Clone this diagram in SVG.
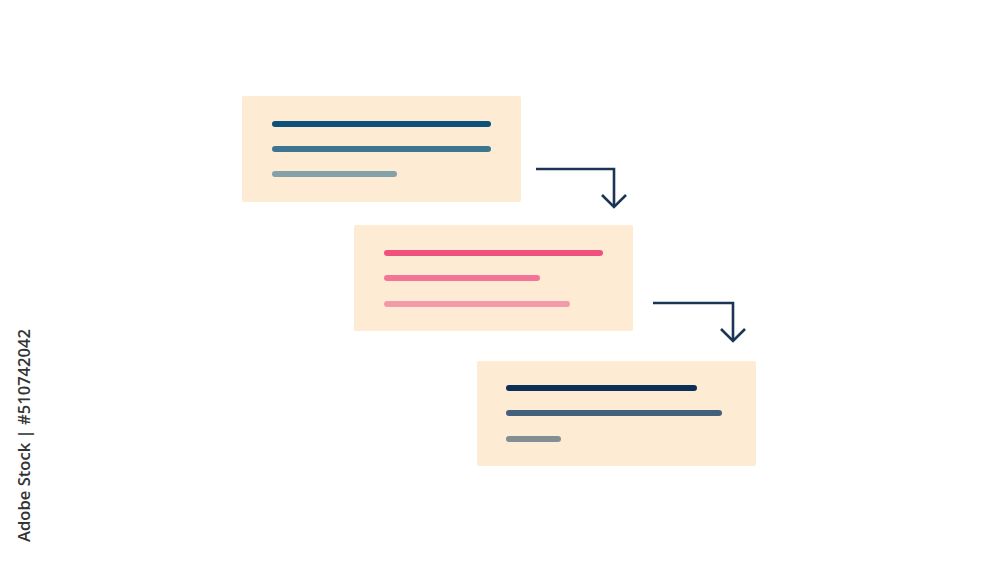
<svg xmlns="http://www.w3.org/2000/svg" width="1000" height="563" viewBox="0 0 1000 563">
<style>
.box{fill:#fdecd3}
.ln{stroke-width:6;stroke-linecap:round;fill:none}
.conn{stroke:#1a3555;stroke-width:2.6;fill:none;stroke-linejoin:miter}
.wm{font-family:"Open Sans","Liberation Sans",sans-serif;font-size:16.6px;font-weight:600;fill:#333}
</style>
<rect width="1000" height="563" fill="#fff"/>
<g id="card1">
<rect class="box" x="242" y="96" width="279" height="106" rx="2"/>
<line class="ln" x1="275" y1="124" x2="488" y2="124" stroke="#0d5079"/>
<line class="ln" x1="275" y1="149" x2="488" y2="149" stroke="#3d7590"/>
<line class="ln" x1="275" y1="174" x2="394" y2="174" stroke="#84a0a8"/>
</g>
<g id="card2">
<rect class="box" x="354" y="225" width="279" height="106" rx="2"/>
<line class="ln" x1="387" y1="253" x2="600" y2="253" stroke="#f0507e"/>
<line class="ln" x1="387" y1="278" x2="537" y2="278" stroke="#f27597"/>
<line class="ln" x1="387" y1="304" x2="567" y2="304" stroke="#f59aaa"/>
</g>
<g id="card3">
<rect class="box" x="477" y="361" width="279" height="105" rx="2"/>
<line class="ln" x1="509" y1="388" x2="694" y2="388" stroke="#0c2f57"/>
<line class="ln" x1="509" y1="413" x2="719" y2="413" stroke="#44607c"/>
<line class="ln" x1="509" y1="439" x2="558" y2="439" stroke="#838e93"/>
</g>
<g id="connectors">
<path class="conn" d="M536 169 H614 V207"/>
<path class="conn" d="M602 195 L614 207 L626 195"/>
<path class="conn" d="M653 303 H733 V341"/>
<path class="conn" d="M721 329 L733 341 L745 329"/>
</g>
<text class="wm" transform="translate(30 542) rotate(-90)">Adobe Stock | #510742042</text>
</svg>
